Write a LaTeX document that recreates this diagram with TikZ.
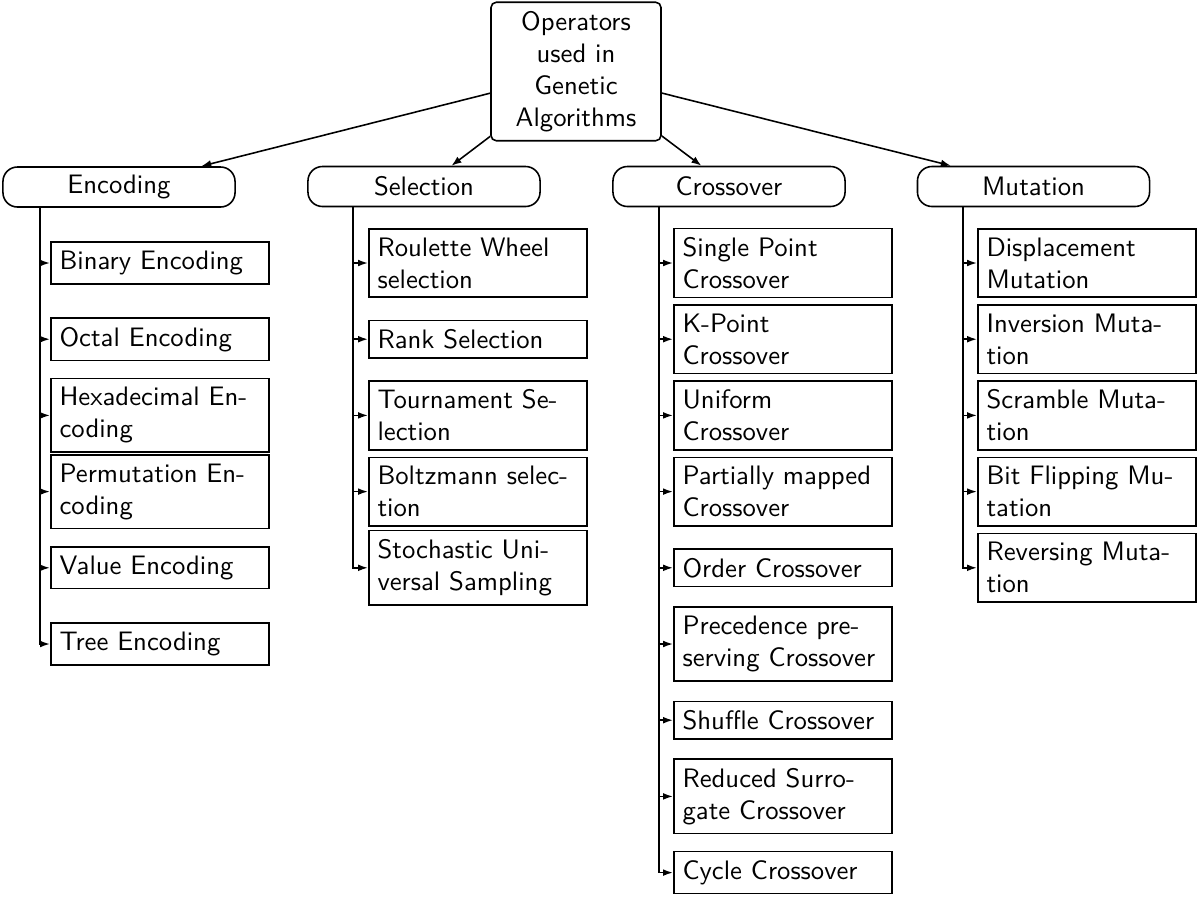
\documentclass[tikz,border=0pt]{standalone}
\usetikzlibrary{arrows.meta}
\begin{document}
\begin{tikzpicture}[x=0.38pt,y=-0.38pt,
  every node/.style={font=\fontsize{10.15pt}{12.2pt}\selectfont\sffamily},
  every path/.style={line width=0.6pt},
  rootbox/.style={draw,rounded corners=2pt,align=center,minimum width=64.6pt,minimum height=51.6pt},
  catbox/.style={draw,rounded corners=5.5pt,minimum width=88.2pt,minimum height=15.2pt,inner sep=0pt},
  itembox/.style={draw,anchor=west,text width=76.2pt,align=left},
  rootarrow/.style={-{Latex[length=3.8pt,width=2.8pt]}},
  childarrow/.style={-{Latex[length=3.8pt,width=2.6pt]}}
]
\useasboundingbox (0,0) rectangle (1200,898);

\node[rootbox] (root) at (576,71.5) {Operators\\used in\\Genetic\\Algorithms};

\node[catbox] (enc) at (119,187) {Encoding};
\node[catbox] (sel) at (424,186.5) {Selection};
\node[catbox] (cro) at (729,186.5) {Crossover};
\node[catbox] (mut) at (1033.5,186.5) {Mutation};

\foreach \c in {enc,sel,cro,mut} \draw[rootarrow] (root) -- (\c);

% Encoding
\node[itembox] (e1) at (50,263) {Binary Encoding};
\node[itembox] (e2) at (50,339.2) {Octal Encoding};
\node[itembox] (e3) at (50,415.4) {Hexadecimal En-\\coding};
\node[itembox] (e4) at (50,491.6) {Permutation En-\\coding};
\node[itembox] (e5) at (50,567.8) {Value Encoding};
\node[itembox] (e6) at (50,644) {Tree Encoding};

% Selection
\node[itembox] (s1) at (368,263) {Roulette Wheel\\selection};
\node[itembox] (s2) at (368,339.2) {Rank Selection};
\node[itembox] (s3) at (368,415.4) {Tournament Se-\\lection};
\node[itembox] (s4) at (368,491.6) {Boltzmann selec-\\tion};
\node[itembox] (s5) at (368,567.8) {Stochastic Uni-\\versal Sampling};

% Crossover
\node[itembox] (c1) at (673,263) {Single Point\\Crossover};
\node[itembox] (c2) at (673,339.2) {K-Point\\Crossover};
\node[itembox] (c3) at (673,415.4) {Uniform\\Crossover};
\node[itembox] (c4) at (673,491.6) {Partially mapped\\Crossover};
\node[itembox] (c5) at (673,567.8) {Order Crossover};
\node[itembox] (c6) at (673,644) {Precedence pre-\\serving Crossover};
\node[itembox] (c7) at (673,720.2) {Shuffle Crossover};
\node[itembox] (c8) at (673,796.4) {Reduced Surro-\\gate Crossover};
\node[itembox] (c9) at (673,872.6) {Cycle Crossover};

% Mutation
\node[itembox] (m1) at (977,263) {Displacement\\Mutation};
\node[itembox] (m2) at (977,339.2) {Inversion Muta-\\tion};
\node[itembox] (m3) at (977,415.4) {Scramble Muta-\\tion};
\node[itembox] (m4) at (977,491.6) {Bit Flipping Mu-\\tation};
\node[itembox] (m5) at (977,567.8) {Reversing Muta-\\tion};

\coordinate (encX) at (40,0);
\coordinate (selX) at (353,0);
\coordinate (croX) at (659,0);
\coordinate (mutX) at (963,0);

\foreach \i in {1,...,6} \draw[childarrow] (enc.south -| encX) |- (e\i.west);
\foreach \i in {1,...,5} \draw[childarrow] (sel.south -| selX) |- (s\i.west);
\foreach \i in {1,...,9} \draw[childarrow] (cro.south -| croX) |- (c\i.west);
\foreach \i in {1,...,5} \draw[childarrow] (mut.south -| mutX) |- (m\i.west);
\end{tikzpicture}
\end{document}
